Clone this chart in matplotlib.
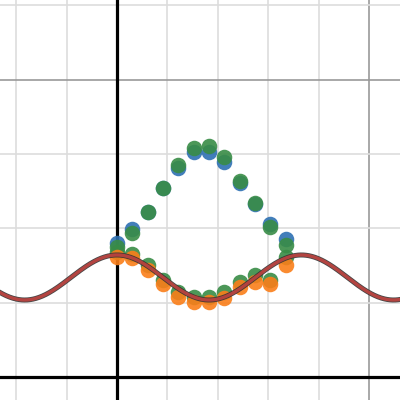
import numpy as np
import matplotlib.pyplot as plt

x_pts = [0.0, 0.304, 0.608, 0.912, 1.216, 1.52, 1.824, 2.128, 2.432, 2.736, 3.04, 3.344]
blue_y = [1.808, 1.988, 2.225, 2.539, 2.818, 3.033, 3.033, 2.898, 2.615, 2.328, 2.059, 1.853]
green_up = [1.745, 1.934, 2.225, 2.539, 2.853, 3.078, 3.109, 2.957, 2.638, 2.338, 2.023, 1.777]
green_low = [1.68, 1.66, 1.51, 1.31, 1.15, 1.08, 1.08, 1.14, 1.28, 1.37, 1.31, 1.62]
orange_y = [1.619, 1.597, 1.440, 1.252, 1.081, 1.014, 1.014, 1.068, 1.216, 1.283, 1.252, 1.507]

# curve: y = c + a*cos(k*x)
c, a, k = 1.339, 0.303, 1.717

fig = plt.figure(figsize=(4, 4), dpi=100)
ax = fig.add_axes([0, 0, 1, 1])
ax.set_xlim(-2.32, 5.615)
ax.set_ylim(-0.31, 5.074)

for gx in range(-2, 6):
    ax.axvline(gx, color='#999999' if gx == 5 else '#dddddd', lw=1.2, zorder=0)
for gy in np.arange(0.5 * 0, 5.5, 1):
    ax.axhline(gy, color='#999999' if gy == 4 else '#dddddd', lw=1.2, zorder=0)
ax.axvline(0, color='black', lw=2.3, zorder=1)
ax.axhline(0, color='black', lw=2.3, zorder=1)

s = 125
ax.scatter(x_pts, blue_y, s=s, color='#2d70b3', alpha=0.9, lw=0, zorder=3)
ax.scatter(x_pts, green_low, s=s, color='#388c46', alpha=0.9, lw=0, zorder=3)
ax.scatter(x_pts, green_up, s=s, color='#388c46', alpha=0.9, lw=0, zorder=4)
ax.scatter(x_pts, orange_y, s=s, color='#fa7e19', alpha=0.9, lw=0, zorder=4)

xs = np.linspace(-2.4, 5.7, 600)
ys = c + a * np.cos(k * xs)
ax.plot(xs, ys, color='#333333', lw=3.6, alpha=0.9, zorder=5)
ax.plot(xs, ys, color='#c74440', lw=2.4, alpha=0.85, zorder=6)

ax.axis('off')
fig.savefig('out.png', dpi=100)
